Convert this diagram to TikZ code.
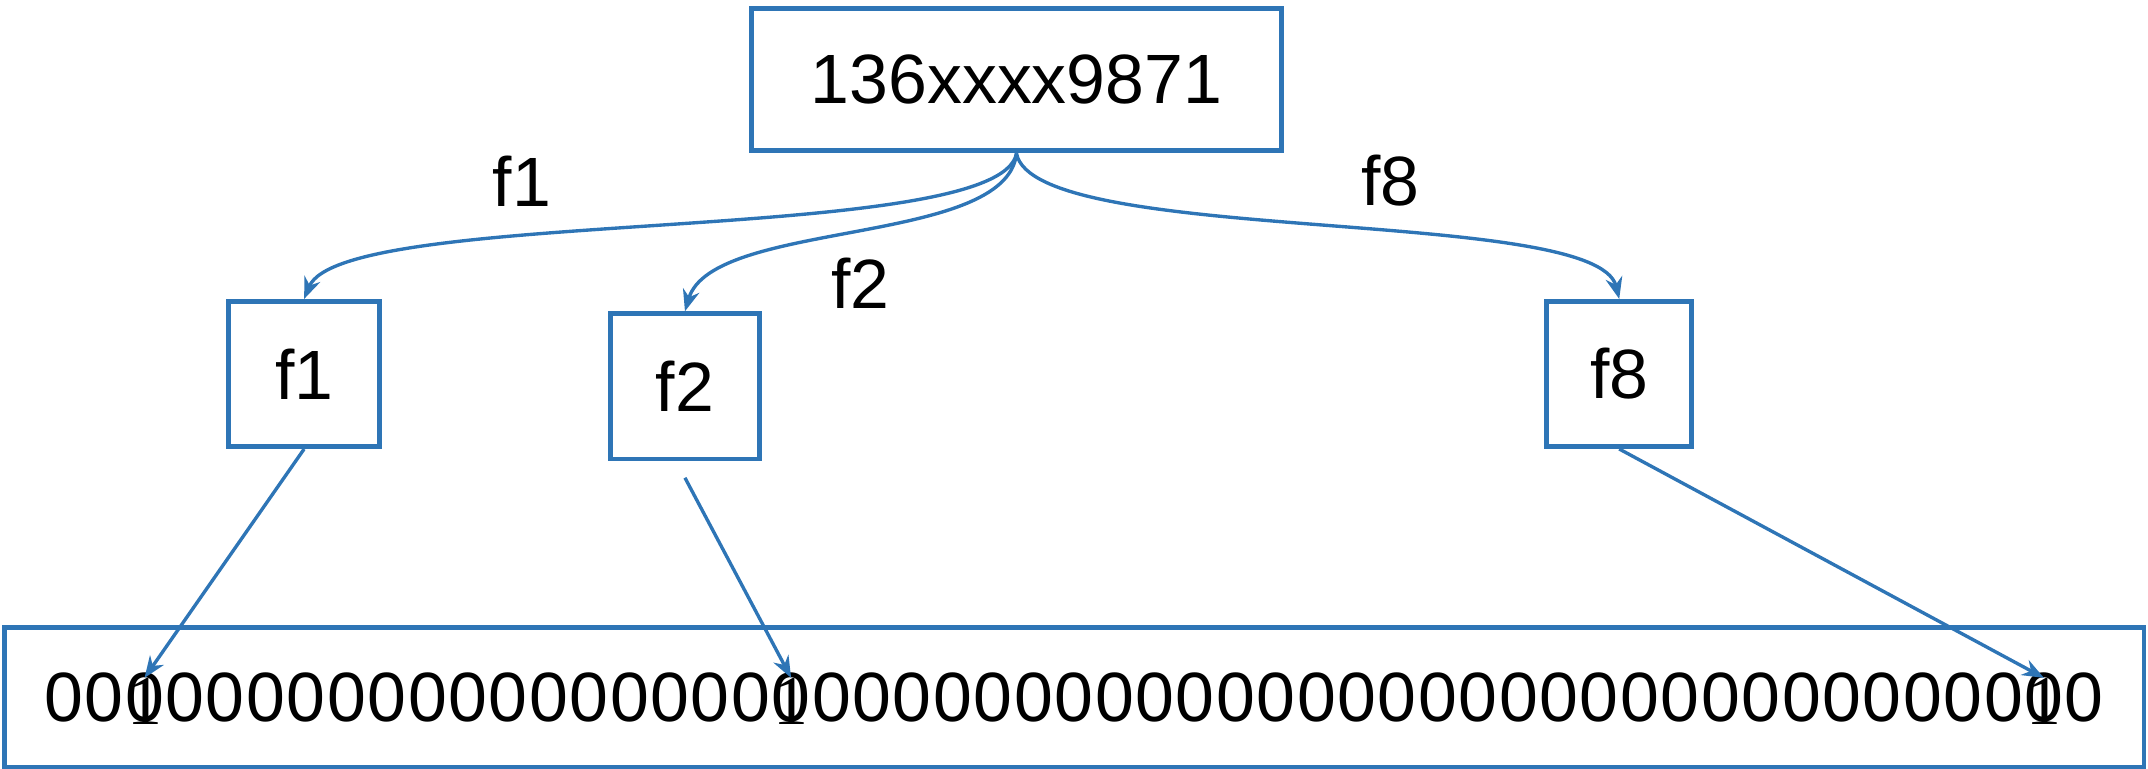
\documentclass[tikz,border=0pt]{standalone}
\usepackage{fontspec}
\setmainfont{Liberation Sans}
\newfontfamily\serifone{Liberation Serif}
\usetikzlibrary{arrows.meta,positioning}
\definecolor{bline}{RGB}{46,117,182}
\tikzstyle{box} = [draw=bline, line width=2pt, inner sep=0pt, font=\fontsize{29}{30}\selectfont]
\tikzstyle{link} = [draw=bline, line width=1.4pt, -{Stealth[length=9pt,width=7pt]}]
\tikzstyle{lbl} = [font=\fontsize{29}{30}\selectfont]

\begin{document}
\begin{tikzpicture}[x=0.02cm, y=-0.02cm]
                    \useasboundingbox (0,0) rectangle (1568,561);
                    \node[box, minimum width=387*0.02cm, minimum height=104*0.02cm] (phone) at (742,58) {136xxxx9871};
                    \node[box, minimum width=110*0.02cm, minimum height=106*0.02cm] (hf1) at (222,273) {f1};
                    \node[box, minimum width=109*0.02cm, minimum height=106*0.02cm] (hf2) at (500,282) {f2};
                    \node[box, minimum width=106*0.02cm, minimum height=106*0.02cm] (hf8) at (1182,273) {f8};
                    \node[box, minimum width=1562*0.02cm, minimum height=102*0.02cm] (bits) at (784,509) {};

                    % bit row
                    \foreach \i in {0,...,50}
                        \node[lbl, inner sep=0pt] (b\i) at (46.5+29.5*\i,509) {0};
                    \foreach \i in {2,18,49}
                        \node[lbl, inner sep=0pt, font=\fontsize{29}{30}\serifone] (one\i) at (46.5+29.5*\i,512) {1};

                    \coordinate (src) at (742,112);
                    \draw[link] (src) .. controls (730,180) and (250,150) .. (hf1.north);
                    \draw[link] (src) .. controls (735,180) and (520,160) .. (hf2.north);
                    \draw[link] (src) .. controls (755,180) and (1165,150) .. (hf8.north);
                    \node[lbl] (lf1) at (381,132) {f1};
                    \node[lbl] (lf2) at (628,207) {f2};
                    \node[lbl] (lf8) at (1015,132) {f8};

                    \draw[link] (hf1.south) -- (one2.north);
                    \draw[link] ([yshift=-12*0.02cm]hf2.south) -- (one18.north);
                    \draw[link] (hf8.south) -- (one49.north);
                \end{tikzpicture}
\end{document}
